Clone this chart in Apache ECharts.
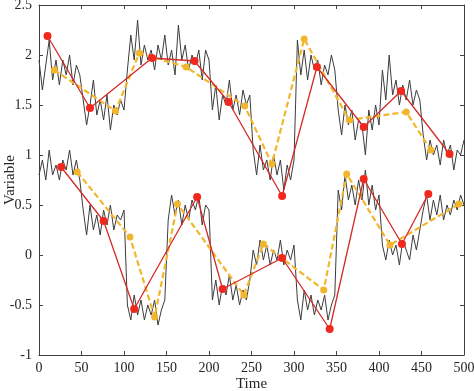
<!DOCTYPE html>
<html>
<head>
<meta charset="utf-8">
<script src="https://cdn.jsdelivr.net/npm/echarts@6/dist/echarts.min.js"></script>
<style>html,body{margin:0;padding:0;background:#fff}#c{width:474px;height:391px}</style>
</head>
<body>
<div id="c"></div>
<script>
// Gray noisy signals, [time, value]
const grayUpper = [
[0,1.95],[4,1.65],[8,1.9],[12,2.15],[16,1.75],[20,1.95],[24,1.7],[28,1.95],[32,1.8],[36,2.0],[40,1.7],[44,1.9],[48,1.8],
[52,1.55],[56,1.3],[60,1.5],[64,1.75],[68,1.4],[72,1.55],[76,1.35],[80,1.6],[84,1.25],[88,1.5],[92,1.4],[96,1.55],[100,1.45],
[104,1.85],[108,2.2],[112,1.95],[116,2.35],[120,1.9],[124,2.1],[128,1.95],[132,2.05],[136,1.85],[140,2.1],[144,1.95],[148,2.2],
[152,1.9],[156,2.05],[160,1.8],[164,2.3],[168,1.95],[172,2.1],[176,1.85],[180,2.0],[184,1.9],[188,2.05],[192,1.75],[196,2.05],[200,1.95],
[204,1.45],[208,1.7],[212,1.35],[216,1.6],[220,1.5],[224,1.75],[228,1.45],[232,1.6],[236,1.4],[240,1.65],[244,1.5],[248,1.6],
[252,1.05],[256,0.8],[260,1.1],[264,0.85],[268,0.95],[272,0.75],[276,1.0],[280,0.8],[284,0.95],[288,0.65],[292,0.9],[296,0.75],[300,0.95],
[304,2.15],[308,1.8],[312,2.05],[316,1.75],[320,2.0],[324,1.85],[328,1.95],[332,1.7],[336,1.9],[340,1.8],[344,2.0],[348,1.85],
[352,1.45],[356,1.2],[360,1.5],[364,1.3],[368,1.45],[372,1.15],[376,1.35],[380,1.3],[384,1.0],[388,1.45],[392,1.25],[396,1.5],[400,1.3],
[404,1.85],[408,1.55],[412,2.0],[416,1.6],[420,1.75],[424,1.5],[428,1.7],[432,1.55],[436,1.75],[440,1.5],[444,1.65],[448,1.55],
[452,1.2],[456,0.95],[460,1.15],[464,1.0],[468,1.1],[472,0.9],[476,1.15],[480,1.0],[484,1.1],[488,0.85],[492,1.05],[496,1.0],[500,1.15]
];
const grayLower = [
[0,0.8],[4,0.95],[8,0.75],[12,1.05],[16,0.8],[20,0.9],[24,0.75],[28,0.95],[32,0.85],[36,1.05],[40,0.8],[44,0.95],[48,0.75],
[52,0.45],[56,0.2],[60,0.5],[64,0.25],[68,0.4],[72,0.2],[76,0.45],[80,0.3],[84,0.5],[88,0.25],[92,0.4],[96,0.35],[100,0.45],
[104,-0.5],[108,-0.65],[112,-0.4],[116,-0.6],[120,-0.45],[124,-0.65],[128,-0.5],[132,-0.6],[136,-0.45],[140,-0.7],[144,-0.55],[148,-0.45],
[152,0.35],[156,0.6],[160,0.4],[164,0.55],[168,0.3],[172,0.5],[176,0.35],[180,0.55],[184,0.45],[188,0.6],[192,0.3],[196,0.5],[200,0.45],
[204,-0.45],[208,-0.25],[212,-0.5],[216,-0.3],[220,-0.4],[224,-0.2],[228,-0.45],[232,-0.3],[236,-0.5],[240,-0.35],[244,-0.45],[248,-0.25],
[252,0.05],[256,-0.1],[260,0.15],[264,-0.05],[268,0.1],[272,-0.1],[276,0.05],[280,-0.05],[284,0.15],[288,-0.1],[292,0.05],[296,-0.05],[300,0.1],
[304,-0.45],[308,-0.65],[312,-0.35],[316,-0.55],[320,-0.4],[324,-0.6],[328,-0.45],[332,-0.55],[336,-0.4],[340,-0.65],[344,-0.5],[348,-0.4],
[352,0.65],[356,0.45],[360,0.8],[364,0.55],[368,0.7],[372,0.5],[376,0.75],[380,0.55],[384,0.85],[388,0.5],[392,0.7],[396,0.45],[400,0.6],
[404,0.1],[408,-0.05],[412,0.15],[416,0.0],[420,0.1],[424,-0.1],[428,0.15],[432,0.05],[436,-0.05],[440,0.2],[444,0.05],[448,0.25],
[452,0.45],[456,0.6],[460,0.35],[464,0.55],[468,0.4],[472,0.6],[476,0.35],[480,0.5],[484,0.4],[488,0.55],[492,0.45],[496,0.6],[500,0.5]
];
// Red sampled points
const redUpper = [[10,2.19],[60,1.47],[133,1.97],[183,1.94],[223,1.53],[286,0.59],[327,1.88],[382,1.28],[426,1.64],[483,1.01]];
const redLower = [[26,0.88],[76,0.34],[112,-0.54],[186,0.58],[216,-0.34],[286,-0.03],[342,-0.74],[382,0.76],[427,0.11],[458,0.61]];
// Yellow sampled points
const yellowUpper = [[18,1.85],[90,1.44],[118,2.02],[173,1.88],[242,1.49],[274,0.91],[312,2.16],[365,1.35],[432,1.43],[461,1.05]];
const yellowLower = [[45,0.83],[107,0.18],[136,-0.62],[163,0.51],[241,-0.40],[264,0.11],[335,-0.35],[362,0.81],[413,0.10],[494,0.51]];
const xTicks = [0,50,100,150,200,250,300,350,400,450,500];
const yTicks = ['-1','-0.5','0','0.5','1','1.5','2','2.5'];

const FONT = 'Liberation Serif';
const AX = '#404040';
const chart = echarts.init(document.getElementById('c'), null, {renderer:'canvas'});
const gray = d => ({type:'line', data:d, symbol:'none', lineStyle:{color:'#3c3c3c', width:1}, z:1, animation:false});
const red = d => ({type:'line', data:d, symbol:'circle', symbolSize:8, itemStyle:{color:'#f0281e'}, lineStyle:{color:'#d22a28', width:1.3}, z:4, animation:false});
const yel = d => ({type:'line', data:d, symbol:'circle', symbolSize:7, itemStyle:{color:'#f2b62c'}, lineStyle:{color:'#f2b62c', width:2.2, type:[6,3]}, z:3, animation:false});
const axisCommon = () => ({
  axisLine:{show:true, onZero:false, lineStyle:{color:AX, width:1}},
  axisTick:{show:true, inside:true, length:4, lineStyle:{color:AX}},
  splitLine:{show:false}
});
chart.setOption({
  animation:false,
  grid:{left:39, right:10, top:5, bottom:36, containLabel:false, outerBoundsMode:'none'},
  xAxis:[
    Object.assign({type:'value', min:0, max:500, interval:50, position:'bottom',
      name:'Time', nameLocation:'middle', nameGap:22, nameMoveOverlap:false, nameTextStyle:{fontFamily:FONT, fontSize:15, color:'#262626'},
      axisLabel:{fontFamily:FONT, fontSize:14, color:'#262626', margin:6, formatter:v=>xTicks.includes(v)?String(v):''}}, axisCommon()),
    Object.assign({type:'value', min:0, max:500, interval:50, position:'top', axisLabel:{show:false}}, axisCommon())
  ],
  yAxis:[
    Object.assign({type:'value', min:-1, max:2.5, interval:0.5, position:'left',
      name:'Variable', nameLocation:'middle', nameGap:21, nameMoveOverlap:false, nameTextStyle:{fontFamily:FONT, fontSize:15, color:'#262626'},
      axisLabel:{fontFamily:FONT, fontSize:14, color:'#262626', margin:7, formatter:v=>{const s=String(Math.round(v*10)/10);return yTicks.includes(s)?s:'';}}}, axisCommon()),
    Object.assign({type:'value', min:-1, max:2.5, interval:0.5, position:'right', axisLabel:{show:false}}, axisCommon())
  ],
  series:[gray(grayUpper), gray(grayLower), yel(yellowUpper), yel(yellowLower), red(redUpper), red(redLower)]
});
</script>
</body>
</html>
